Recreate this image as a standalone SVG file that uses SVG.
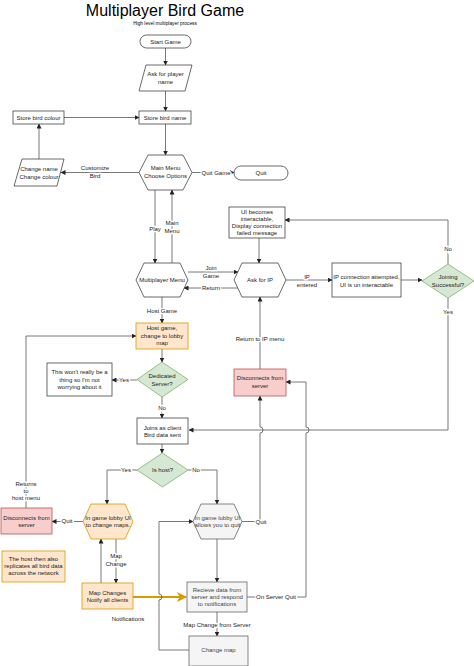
<svg xmlns="http://www.w3.org/2000/svg" width="474" height="666" viewBox="0 0 474 666">
<defs>
<marker id="a" markerUnits="userSpaceOnUse" markerWidth="5" markerHeight="5" refX="4.5" refY="2.5" orient="auto"><path d="M0,0 L5,2.5 L0,5 Z" fill="#222"/></marker>
<marker id="ao" markerUnits="userSpaceOnUse" markerWidth="10" markerHeight="10" refX="9" refY="5" orient="auto"><path d="M0,0 L10,5 L0,10 L2.5,5 Z" fill="#d79b00"/></marker>
<style>
text{font-family:"Liberation Sans",Arial,sans-serif;font-size:6px;text-anchor:middle;fill:#222}
.n{fill:#fff;stroke:#444;stroke-width:0.8}
.or{fill:#ffe6cc;stroke:#d79b00;stroke-width:0.8}
.gr{fill:#d5e8d4;stroke:#82b366;stroke-width:0.8}
.rd{fill:#f8cecc;stroke:#b85450;stroke-width:0.8}
.gy{fill:#f5f5f5;stroke:#666;stroke-width:0.8}
.e{fill:none;stroke:#555;stroke-width:0.8;marker-end:url(#a)}
.l{fill:none;stroke:#555;stroke-width:0.8}
.lb{stroke:#fff;stroke-width:2.5px;paint-order:stroke}
.gt{fill:#444}
</style>
</defs>
<text x="165" y="16" style="font-size:16px;fill:#000">Multiplayer Bird Game</text>
<text x="165" y="25" style="font-size:4.8px;fill:#000">High level multiplayer process</text>

<g id="connectors">
<path class="e" d="M165.5,48 V65"/>
<path class="e" d="M165.5,91 V111"/>
<path class="e" d="M64,117.5 H139"/>
<path class="e" d="M165.5,124 V155"/>
<path class="e" d="M139,172.5 H61"/>
<path class="e" d="M39,159 V124"/>
<path class="e" d="M192,172.5 H234"/>
<path class="e" d="M155,190 V263"/>
<path class="e" d="M172,263 V190"/>
<path class="e" d="M188,272 H238"/>
<path class="e" d="M238,288 H184"/>
<path class="e" d="M286,280 H332"/>
<path class="e" d="M401,280 H422"/>
<path class="e" d="M448,264 V220 H285"/>
<path class="e" d="M259,238 V263"/>
<path class="e" d="M260,369 V297"/>
<path class="e" d="M162,297 V323"/>
<path class="e" d="M162,349 V362"/>
<path class="e" d="M137,380 H112"/>
<path class="e" d="M162,397 V418"/>
<path class="e" d="M448,298 V430 H189"/>
<path class="e" d="M162,444 V453"/>
<path class="e" d="M137,470 H107 V504"/>
<path class="e" d="M188,470 H217 V504"/>
<path class="e" d="M83,521.5 H52"/>
<path class="e" d="M26,508 V336 H136"/>
<path class="e" d="M242,521.5 H260 V433 a3,3 0 0 0 0,-6 V396"/>
<path class="e" d="M116,539 V583"/>
<path class="e" d="M101,583 V539"/>
<path d="M133,597 H186" fill="none" stroke="#d79b00" stroke-width="2" marker-end="url(#ao)"/>
<path class="e" d="M217,539 V582"/>
<path class="e" d="M217,612 V636"/>
<path class="e" d="M247,597 H306 V433 a3,3 0 0 0 0,-6 V382 H286"/>
<path class="e" d="M189,650 H159 V600 a3,3 0 0 0 0,-6 V521.5 H193"/>
<g class="lb">
<text x="95" y="170">Customize</text><text x="95" y="178">Bird</text>
<text x="216" y="175">Quit Game</text>
<text x="155" y="231">Play</text>
<text x="172" y="225">Main</text><text x="172" y="233">Menu</text>
<text x="211" y="270">Join</text><text x="211" y="278">Game</text>
<text x="211" y="290">Return</text>
<text x="307" y="279">IP</text><text x="307" y="287">entered</text>
<text x="448" y="251">No</text>
<text x="448" y="314">Yes</text>
<text x="162" y="313">Host Game</text>
<text x="260" y="341">Return to IP menu</text>
<text x="124" y="382">Yes</text>
<text x="162" y="410">No</text>
<text x="126" y="472">Yes</text>
<text x="196" y="472">No</text>
<text x="67" y="523">Quit</text>
<text x="261" y="524">Quit</text>
<text x="26" y="486">Returns</text><text x="26" y="493">to</text><text x="26" y="500">host menu</text>
<text x="116" y="558">Map</text><text x="116" y="566">Change</text>
<text x="128" y="621">Notifications</text>
<text x="276" y="599">On Server Quit</text>
<text x="217" y="627">Map Change from Server</text>
</g>
</g>

<g id="start"><rect class="n" x="140" y="35" width="51" height="13" rx="6.5"/><text x="165.5" y="43.5">Start Game</text></g>
<g id="askname"><polygon class="n" points="146,65 192,65 185,91 139,91"/><text x="165.5" y="76">Ask for player</text><text x="165.5" y="84">name</text></g>
<g id="storename"><rect class="n" x="139" y="111" width="52" height="13"/><text x="165" y="119.5">Store bird name</text></g>
<g id="storecolour"><rect class="n" x="13" y="111" width="51" height="13"/><text x="38.5" y="119.5">Store bird colour</text></g>
<g id="changename"><polygon class="n" points="22,159 64,159 57,186 14,186"/><text x="39" y="171">Change name</text><text x="39" y="179">Change colour</text></g>
<g id="mainmenu"><polygon class="n" points="148,155 183,155 192,172.5 183,190 148,190 139,172.5"/><text x="165.5" y="170">Main Menu</text><text x="165.5" y="178">Choose Options</text></g>
<g id="quit"><rect class="n" x="234" y="166" width="54" height="14" rx="7"/><text x="261" y="175">Quit</text></g>
<g id="multimenu"><polygon class="n" points="144,263 180,263 188,280 180,297 144,297 136,280"/><text x="162" y="282">Multiplayer Menu</text></g>
<g id="askip"><polygon class="n" points="242,263 278,263 286,280 278,297 242,297 234,280"/><text x="260" y="282">Ask for IP</text></g>
<g id="uifail"><rect class="n" x="229" y="207" width="56" height="31"/><text x="257" y="214">UI becomes</text><text x="257" y="221">interactable,</text><text x="257" y="228">Display connection</text><text x="257" y="235">failed message</text></g>
<g id="ipattempt"><rect class="n" x="332" y="263" width="69" height="34"/><text x="366.5" y="279">IP connection attempted,</text><text x="366.5" y="287">UI is un interactable</text></g>
<g id="joining"><polygon class="gr" points="448,264 474,281 448,298 422,281"/><text x="448" y="279">Joining</text><text x="448" y="287">Successful?</text></g>
<g id="hostgame"><rect class="or" x="136" y="323" width="52" height="26"/><text x="162" y="330">Host game,</text><text x="162" y="338">change to lobby</text><text x="162" y="345">map</text></g>
<g id="dedicated"><polygon class="gr" points="162,362 188,379.5 162,397 137,379.5"/><text x="162" y="378">Dedicated</text><text x="162" y="386">Server?</text></g>
<g id="wont"><rect class="n" x="47" y="363" width="65" height="33"/><text x="79.5" y="374">This won't really be a</text><text x="79.5" y="382">thing so I'm not</text><text x="79.5" y="389">worrying about it</text></g>
<g id="disconnect1"><rect class="rd" x="234" y="369" width="52" height="27"/><text x="260" y="380">Disconnects from</text><text x="260" y="388">server</text></g>
<g id="joins"><rect class="n" x="137" y="418" width="51" height="26"/><text x="162.5" y="430">Joins as client</text><text x="162.5" y="437">Bird data sent</text></g>
<g id="ishost"><polygon class="gr" points="162.5,453 188,470 162.5,487 137,470"/><text x="162.5" y="472">Is host?</text></g>
<g id="hostlobby"><polygon class="or" points="91,504 125,504 133,521.5 125,539 91,539 83,521.5"/><text x="108" y="520">In game lobby UI</text><text x="108" y="527">to change maps.</text></g>
<g id="disconnect2"><rect class="rd" x="1" y="508" width="51" height="26"/><text x="26.5" y="520">Disconnects from</text><text x="26.5" y="527">server</text></g>
<g id="clientlobby"><polygon class="gy" points="201,504 234,504 242,521.5 234,539 201,539 193,521.5"/><text class="gt" x="217.5" y="520">In game lobby UI</text><text class="gt" x="217.5" y="527">allows you to quit</text></g>
<g id="note"><rect class="or" x="2" y="551" width="63" height="31"/><text x="33.5" y="561">The host then also</text><text x="33.5" y="568">replicates all bird data</text><text x="33.5" y="575">across the network</text></g>
<g id="mapchanges"><rect class="or" x="82" y="583" width="51" height="26"/><text x="107.5" y="595">Map Changes</text><text x="107.5" y="602">Notify all clients</text></g>
<g id="recieve"><rect class="gy" x="187" y="582" width="60" height="30"/><text class="gt" x="217" y="592">Recieve data from</text><text class="gt" x="217" y="599">server and respond</text><text class="gt" x="217" y="606">to notifications</text></g>
<g id="changemap"><rect class="gy" x="189" y="636" width="59" height="30"/><text class="gt" x="218.5" y="652">Change map</text></g>
</svg>
